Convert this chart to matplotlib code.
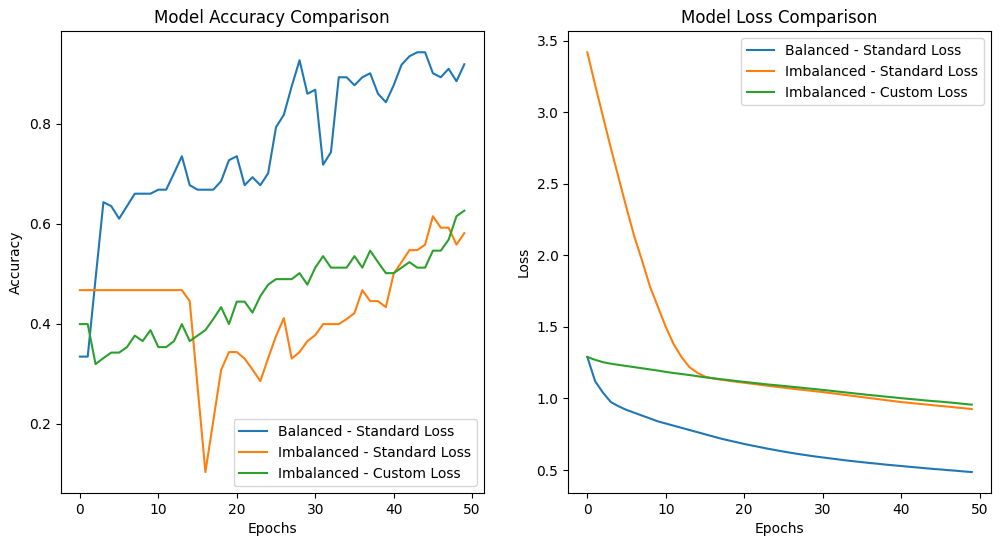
import numpy as np
import matplotlib
matplotlib.use('Agg')
import matplotlib.pyplot as plt

# values
epochs = np.arange(50)

acc_balanced = [0.334, 0.334, 0.49, 0.643, 0.635, 0.610, 0.635, 0.660, 0.660, 0.660,
                0.668, 0.668, 0.701, 0.735, 0.677, 0.668, 0.668, 0.668, 0.685, 0.727,
                0.735, 0.677, 0.693, 0.677, 0.701, 0.793, 0.818, 0.875, 0.927, 0.860,
                0.868, 0.718, 0.743, 0.893, 0.893, 0.877, 0.893, 0.901, 0.860, 0.843,
                0.877, 0.918, 0.935, 0.943, 0.943, 0.901, 0.893, 0.910, 0.885, 0.919]

acc_imb_std = [0.467, 0.467, 0.467, 0.467, 0.467, 0.467, 0.467, 0.467, 0.467, 0.467,
               0.467, 0.467, 0.467, 0.467, 0.445, 0.274, 0.103, 0.205, 0.307, 0.343,
               0.343, 0.330, 0.308, 0.285, 0.331, 0.375, 0.411, 0.330, 0.343, 0.365,
               0.377, 0.399, 0.399, 0.399, 0.409, 0.421, 0.467, 0.445, 0.445, 0.433,
               0.500, 0.523, 0.547, 0.547, 0.558, 0.615, 0.592, 0.592, 0.558, 0.581]

acc_imb_custom = [0.399, 0.399, 0.319, 0.331, 0.342, 0.342, 0.353, 0.376, 0.365, 0.387,
                  0.353, 0.353, 0.365, 0.399, 0.365, 0.376, 0.387, 0.409, 0.433, 0.399,
                  0.444, 0.444, 0.422, 0.455, 0.478, 0.489, 0.489, 0.489, 0.501, 0.478,
                  0.512, 0.535, 0.512, 0.512, 0.512, 0.535, 0.512, 0.546, 0.523, 0.501,
                  0.501, 0.512, 0.523, 0.512, 0.512, 0.546, 0.546, 0.568, 0.615, 0.626]

loss_balanced = [1.29, 1.12, 1.04, 0.975, 0.945, 0.92, 0.90, 0.88, 0.86, 0.84,
                 0.825, 0.81, 0.795, 0.78, 0.765, 0.75, 0.735, 0.72, 0.707, 0.695,
                 0.682, 0.671, 0.66, 0.649, 0.639, 0.629, 0.62, 0.611, 0.603, 0.595,
                 0.588, 0.581, 0.574, 0.567, 0.561, 0.555, 0.549, 0.544, 0.538, 0.533,
                 0.528, 0.523, 0.518, 0.513, 0.508, 0.504, 0.499, 0.495, 0.49, 0.486]

loss_imb_std = [3.42, 3.19, 2.97, 2.75, 2.54, 2.33, 2.13, 1.96, 1.78, 1.64,
                1.50, 1.38, 1.29, 1.22, 1.18, 1.153, 1.14, 1.132, 1.124, 1.117,
                1.11, 1.103, 1.096, 1.089, 1.082, 1.076, 1.069, 1.063, 1.057, 1.051,
                1.045, 1.038, 1.031, 1.024, 1.017, 1.010, 1.003, 0.996, 0.989, 0.982,
                0.975, 0.970, 0.964, 0.959, 0.953, 0.948, 0.943, 0.937, 0.932, 0.926]

loss_imb_custom = [1.29, 1.27, 1.254, 1.243, 1.235, 1.227, 1.219, 1.211, 1.203, 1.195,
                   1.186, 1.178, 1.171, 1.164, 1.156, 1.148, 1.142, 1.135, 1.129, 1.122,
                   1.116, 1.110, 1.104, 1.098, 1.093, 1.088, 1.082, 1.077, 1.071, 1.066,
                   1.060, 1.054, 1.048, 1.042, 1.036, 1.030, 1.024, 1.019, 1.013, 1.008,
                   1.002, 0.997, 0.992, 0.987, 0.982, 0.978, 0.973, 0.968, 0.962, 0.957]

labels = ['Balanced - Standard Loss', 'Imbalanced - Standard Loss', 'Imbalanced - Custom Loss']

fig, (ax1, ax2) = plt.subplots(1, 2, figsize=(10.01, 5.47), dpi=100)
plt.subplots_adjust(left=0.0606, right=0.990, bottom=0.0987, top=0.9428, wspace=0.2)

# accuracy
ax1.plot(epochs, acc_balanced, label=labels[0])
ax1.plot(epochs, acc_imb_std, label=labels[1])
ax1.plot(epochs, acc_imb_custom, label=labels[2])
ax1.set_title('Model Accuracy Comparison')
ax1.set_xlabel('Epochs')
ax1.set_ylabel('Accuracy')
ax1.legend(loc='lower right')

# loss
ax2.plot(epochs, loss_balanced, label=labels[0])
ax2.plot(epochs, loss_imb_std, label=labels[1])
ax2.plot(epochs, loss_imb_custom, label=labels[2])
ax2.set_title('Model Loss Comparison')
ax2.set_xlabel('Epochs')
ax2.set_ylabel('Loss')
ax2.legend(loc='upper right')

plt.savefig('out.png', dpi=100)
